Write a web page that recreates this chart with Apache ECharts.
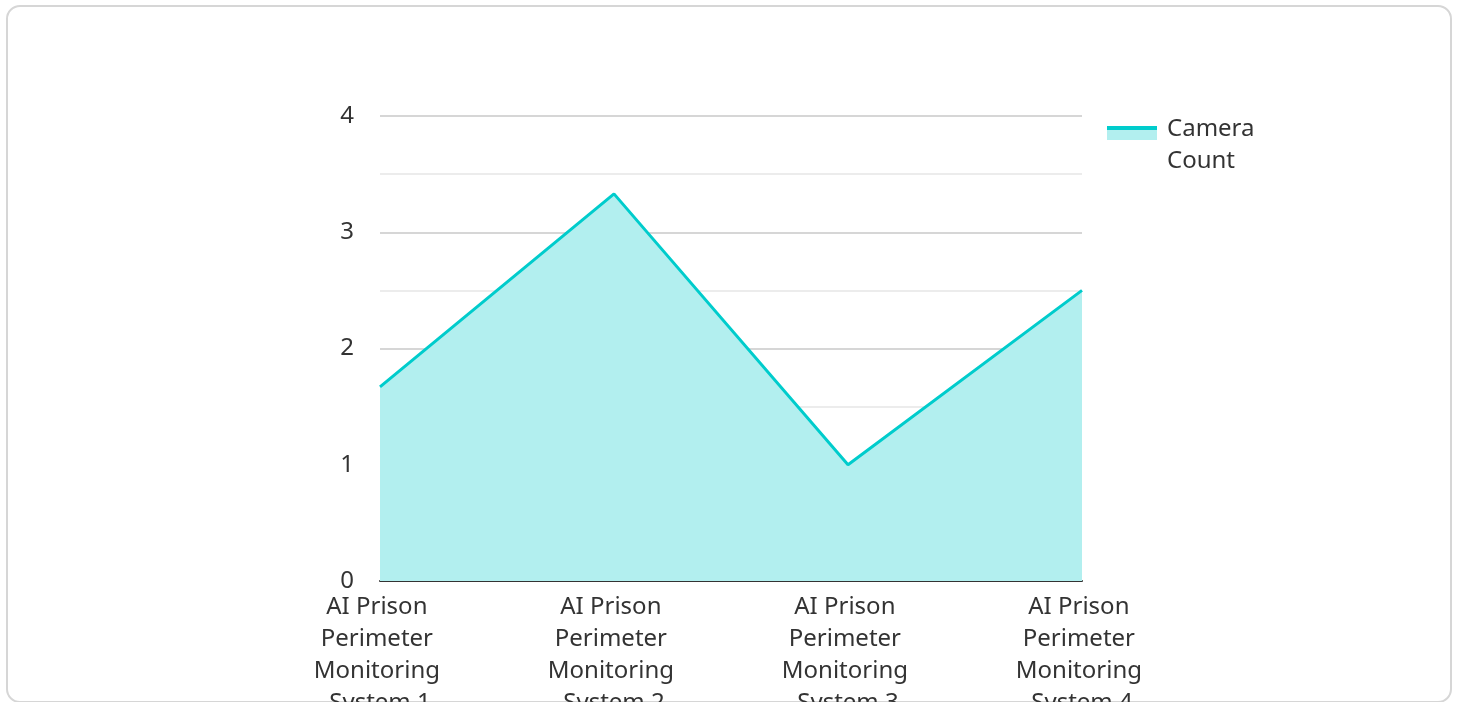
<!DOCTYPE html>
<html>
<head>
<meta charset="utf-8">
<script src="https://cdn.jsdelivr.net/npm/echarts@6/dist/echarts.min.js"></script>
<style>
  html, body { margin: 0; padding: 0; background: #fff; overflow: hidden; }
  .card {
    position: absolute; left: 6px; top: 5px; width: 1446px; height: 698px;
    border: 2px solid #d6d6d6; border-radius: 14px; box-sizing: border-box;
  }
  #chart { position: absolute; left: 0; top: 0; width: 1458px; height: 702px; }
</style>
</head>
<body>
<div class="card"></div>
<div id="chart"></div>
<script>
const categories = [
  'AI Prison Perimeter Monitoring System 1',
  'AI Prison Perimeter Monitoring System 2',
  'AI Prison Perimeter Monitoring System 3',
  'AI Prison Perimeter Monitoring System 4'
];
const cameraCount = [1.67, 3.33, 1, 2.5];
const seriesName = 'Camera Count';

const lineColor = '#00cccc';
const areaColor = '#b2efef';
const textColor = '#333';
const fontFamily = '"Noto Sans", "Open Sans", sans-serif';

const chart = echarts.init(document.getElementById('chart'), undefined, { renderer: 'canvas' });

chart.setOption({
  animation: false,
  backgroundColor: 'transparent',
  textStyle: { fontFamily: fontFamily, color: textColor },
  grid: {
    left: 380, right: 376, top: 116, bottom: 121,
    containLabel: false, outerBoundsMode: 'none'
  },
  legend: {
    data: [seriesName],
    left: 1107,
    top: 89,
    padding: 0,
    orient: 'vertical',
    itemWidth: 50,
    itemHeight: 14,
    itemGap: 10,
    icon: 'rect',
    itemStyle: {
      color: {
        type: 'linear', x: 0, y: 0, x2: 0, y2: 1,
        colorStops: [
          { offset: 0, color: lineColor },
          { offset: 0.28, color: lineColor },
          { offset: 0.28, color: areaColor },
          { offset: 1, color: areaColor }
        ]
      },
      borderWidth: 0
    },
    // legend key sits beside the first line of the wrapped name
    formatter: name => '{gap| }\n' + name.split(' ').map(w => '{txt|' + w + '}').join('\n'),
    textStyle: {
      fontSize: 24, color: textColor, fontFamily: fontFamily,
      rich: {
        gap: { fontSize: 10, lineHeight: 24, height: 24 },
        txt: { fontSize: 24, lineHeight: 32, color: textColor, fontFamily: fontFamily, padding: [0, 0, 0, 5] }
      }
    }
  },
  xAxis: {
    type: 'category',
    data: categories,
    boundaryGap: false,
    axisLine: { show: true, lineStyle: { color: '#333', width: 2 } },
    axisTick: { show: false },
    axisLabel: {
      color: textColor, fontSize: 24, fontFamily: fontFamily,
      interval: 0, margin: 10, lineHeight: 32,
      width: 160, overflow: 'break'
    },
    splitLine: { show: false }
  },
  yAxis: {
    type: 'value',
    min: 0,
    max: 4,
    interval: 1,
    axisLine: { show: false },
    axisTick: { show: false },
    axisLabel: { color: textColor, fontSize: 24, fontFamily: fontFamily, margin: 26 },
    splitLine: { lineStyle: { color: '#c8c8c8', width: 1.5 } },
    minorTick: { show: false, splitNumber: 2 },
    minorSplitLine: { show: true, lineStyle: { color: '#e6e6e6', width: 1.5 } }
  },
  series: [{
    name: seriesName,
    type: 'line',
    data: cameraCount,
    showSymbol: false,
    symbol: 'none',
    lineStyle: { color: lineColor, width: 3 },
    itemStyle: { color: lineColor },
    areaStyle: { color: areaColor, opacity: 1 },
    z: 1
  }]
});

window.addEventListener('resize', () => chart.resize());
</script>
</body>
</html>
